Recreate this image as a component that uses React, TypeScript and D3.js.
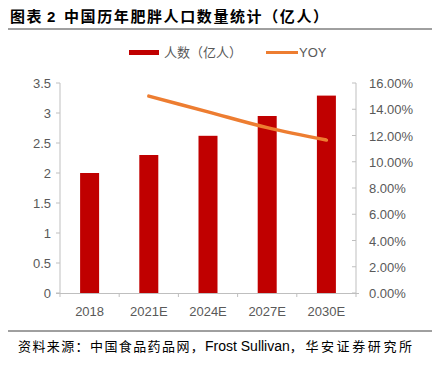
import React from "react";
import * as d3 from "d3";

const categories = ["2018", "2021E", "2024E", "2027E", "2030E"];
const population = [2.0, 2.3, 2.62, 2.95, 3.29];
const yoy = [null, 15.0, 13.8, 12.6, 11.65];
const leftTicks = [0, 0.5, 1, 1.5, 2, 2.5, 3, 3.5];
const rightTicks = [0, 2, 4, 6, 8, 10, 12, 14, 16];

const W = 432, H = 366;
const M = { left: 60, right: 356, top: 83, bottom: 293 };
const latin = "'Liberation Sans', Arial, sans-serif";
const cjk = "'Liberation Sans', 'Noto Sans CJK SC', sans-serif";

export default function App() {
  const x = d3.scaleBand<string>().domain(categories).range([M.left, M.right]).paddingInner(0).paddingOuter(0);
  const yL = d3.scaleLinear().domain([0, 3.5]).range([M.bottom, M.top]);
  const yR = d3.scaleLinear().domain([0, 16]).range([M.bottom, M.top]);
  const bw = 19;
  const pts: [number, number][] = [];
  yoy.forEach((v, i) => {
    if (v != null) pts.push([x(categories[i])! + x.bandwidth() / 2, yR(v)]);
  });
  const line = d3.line().curve(d3.curveMonotoneX)(pts) || "";
  const axisColor = "#bfbfbf";
  const tickColor = "#595959";
  return (
    <svg width={W} height={H} style={{ position: "absolute", left: 0, top: 0, background: "#fff" }}>
      <text x={10} y={22} fontFamily={cjk} fontWeight="bold" fontSize={15} fill="#000">
        <tspan letterSpacing={1.5}>图表</tspan>
        <tspan x={47}>2</tspan>
        <tspan x={64} letterSpacing={1.6}>中国历年肥胖人口数量统计（亿人）</tspan>
      </text>
      <line x1={8} x2={432} y1={29} y2={29} stroke="#404040" strokeWidth={1} />
      {/* legend */}
      <rect x={129} y={50} width={30} height={5} fill="#c00000" />
      <text x={164} y={57} fontFamily={cjk} fontSize={13} fill="#595959">人数（亿人）</text>
      <line x1={266} x2={298} y1={52.5} y2={52.5} stroke="#ed7d31" strokeWidth={3} />
      <text x={299} y={57} fontFamily={latin} fontSize={13} fill="#595959">YOY</text>
      {/* bars */}
      {population.map((v, i) => (
        <rect key={i} x={x(categories[i])! + x.bandwidth() / 2 - bw / 2} y={yL(v)} width={bw} height={M.bottom - yL(v)} fill="#c00000" />
      ))}
      {/* axes */}
      <line x1={M.left} x2={M.left} y1={M.top} y2={M.bottom} stroke={axisColor} />
      <line x1={M.right} x2={M.right} y1={M.top} y2={M.bottom} stroke={axisColor} />
      <line x1={M.left - 4} x2={M.right + 3} y1={M.bottom + 0.5} y2={M.bottom + 0.5} stroke={axisColor} />
      {leftTicks.map((t) => (
        <g key={"l" + t}>
          <line x1={M.left - 4} x2={M.left} y1={yL(t)} y2={yL(t)} stroke={axisColor} />
          <text x={M.left - 9} y={yL(t) + 5} textAnchor="end" fontFamily={latin} fontSize={13} fill={tickColor}>{t}</text>
        </g>
      ))}
      {rightTicks.map((t) => (
        <g key={"r" + t}>
          <line x1={M.right - 4} x2={M.right} y1={yR(t)} y2={yR(t)} stroke={axisColor} />
          <text x={M.right + 13} y={yR(t) + 5} fontFamily={latin} fontSize={13} fill={tickColor}>{t.toFixed(2)}%</text>
        </g>
      ))}
      {categories.map((c, i) => (
        <line key={"xt" + i} x1={x(c)!} x2={x(c)!} y1={M.bottom} y2={M.bottom + 4} stroke={axisColor} />
      ))}
      <line x1={M.right} x2={M.right} y1={M.bottom} y2={M.bottom + 4} stroke={axisColor} />
      {categories.map((c) => (
        <text key={"xl" + c} x={x(c)! + x.bandwidth() / 2} y={316} textAnchor="middle" fontFamily={latin} fontSize={13} fill={tickColor}>{c}</text>
      ))}
      <path d={line} fill="none" stroke="#ed7d31" strokeWidth={3.5} strokeLinecap="round" />
      <line x1={8} x2={432} y1={331} y2={331} stroke="#404040" strokeWidth={1} />
      <text x={18} y={351} fontFamily={cjk} fontSize={13} fill="#000">
        <tspan letterSpacing={1.4}>资料来源：中国食品药品网，</tspan>
        <tspan x={205} fontFamily={latin} fontSize={14}>Frost Sullivan</tspan>
        <tspan letterSpacing={2.6}>，华安证券研究所</tspan>
      </text>
    </svg>
  );
}
